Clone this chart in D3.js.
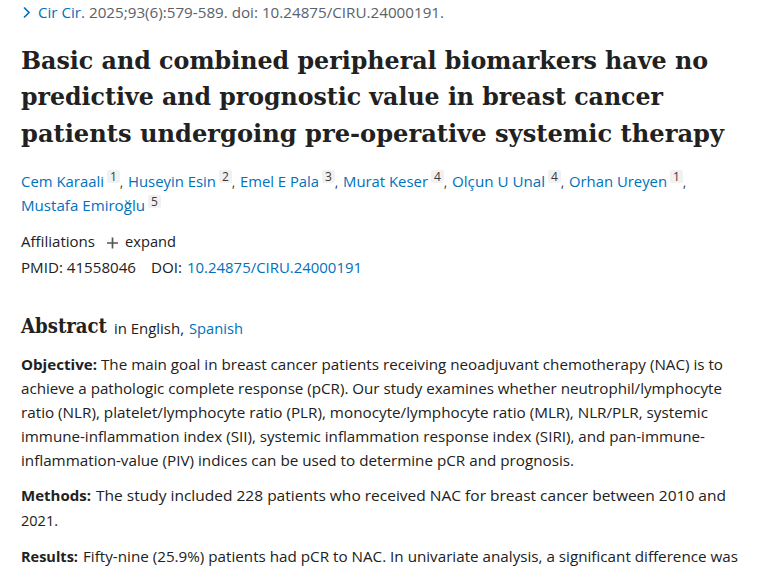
<!DOCTYPE html>
<html><head><meta charset="utf-8">
<script src="https://cdn.jsdelivr.net/npm/d3@7/dist/d3.min.js"></script>
<style>html,body{margin:0;padding:0;background:#fff}svg{display:block}</style></head>
<body><div id="c"></div>
<script>
const titleLines = ["Basic and combined peripheral biomarkers have no","predictive and prognostic value in breast cancer","patients undergoing pre-operative systemic therapy"];
const authorNames = ["Cem Karaali","Huseyin Esin","Emel E Pala","Murat Keser","Olçun U Unal","Orhan Ureyen","Mustafa Emiroğlu"];
const affiliationNums = ["1","2","3","4","4","1","5"];
const citationJournal = "Cir Cir.";
const citationRest = "2025;93(6):579-589. doi: 10.24875/CIRU.24000191.";
const bodyRuns = [
 ["Objective:",1,0],["The main goal in breast cancer patients receiving neoadjuvant chemotherapy (NAC) is to",0,0],
 ["achieve a pathologic complete response (pCR). Our study examines whether neutrophil/lymphocyte",0,1],
 ["ratio (NLR), platelet/lymphocyte ratio (PLR), monocyte/lymphocyte ratio (MLR), NLR/PLR, systemic",0,2],
 ["immune-inflammation index (SII), systemic inflammation response index (SIRI), and pan-immune-",0,3],
 ["inflammation-value (PIV) indices can be used to determine pCR and prognosis.",0,4],
 ["Methods:",1,5],["The study included 228 patients who received NAC for breast cancer between 2010 and",0,5],
 ["2021.",0,6],
 ["Results:",1,7],["Fifty-nine (25.9%) patients had pCR to NAC. In univariate analysis, a significant difference was",0,7]
];
// layout tables (pixel extents of each run), kept apart from the text
const titleExt = [[21,708],[21,663],[21,724]];
const titleBase = [69,105,142];
const authorExt = [[21,104],[128,216],[240,319],[343,428],[452,545],[569,667],[21,145]];
const supBox = [107,219,322,431,548,670,148];
const bodyExt = [[21,97],[101,723],[21,722],[21,708],[21,705],[21,574],[21,91],[96,726],[21,58],[21,78],[83,738]];
const bodyBase = [369.500,394,418,442,466,501,526,562];

const BLUE="#0071bc", INK="#212121", GRAY="#5b616b";
const SANS="'Open Sans','Noto Sans',sans-serif", SERIF="'DejaVu Serif',serif";
const svg=d3.select("#c").append("svg").attr("width",760).attr("height",570);

function put(sel,rows){
  return sel.selectAll(null).data(rows).join("text")
   .attr("x",d=>d.x0).attr("y",d=>d.y).text(d=>d.t)
   .attr("textLength",d=>d.x1-d.x0).attr("lengthAdjust","spacingAndGlyphs")
   .attr("font-family",d=>d.ff||SANS).attr("font-size",d=>d.fs||14.6)
   .attr("font-weight",d=>d.b?700:400).attr("fill",d=>d.c||INK);
}
// citation
svg.append("path").attr("d",d3.line()([[24,7.500],[29,12.500],[24,17.500]])).attr("fill","none").attr("stroke",BLUE).attr("stroke-width",1.7);
put(svg.append("g"),[
 {t:citationJournal,x0:38,x1:85,y:18,c:BLUE},
 {t:citationRest,x0:89,x1:444,y:18,c:GRAY}
]);
// title
put(svg.append("g"),titleLines.map((t,i)=>({t,x0:titleExt[i][0],x1:titleExt[i][1],y:titleBase[i],b:1,ff:SERIF,fs:24.8})));
// authors
const authorRows=authorNames.map((t,i)=>({t,x0:authorExt[i][0],x1:authorExt[i][1],y:i==6?211:187,c:BLUE}));
put(svg.append("g"),authorRows);
svg.append("g").selectAll("rect").data(affiliationNums).join("rect")
 .attr("x",(d,i)=>supBox[i]).attr("y",(d,i)=>(i==6?195:170)).attr("width",13).attr("height",13).attr("rx",2).attr("fill","#f1f1f1");
svg.append("g").selectAll("text").data(affiliationNums).join("text")
 .attr("x",(d,i)=>supBox[i]+6.500).attr("y",(d,i)=>(i==6?206:181)).attr("text-anchor","middle")
 .attr("font-family",SANS).attr("font-size",12).attr("fill","#3a3a3a").text(d=>d);
put(svg.append("g"),[120,232,335,444,561,683].map(x=>({t:",",x0:x,x1:x+3,y:187,c:INK})));
// meta
put(svg.append("g"),[
 {t:"Affiliations",x0:21,x1:95,y:247},
 {t:"expand",x0:125,x1:176,y:247},
 {t:"PMID: 41558046",x0:21,x1:136,y:273},
 {t:"DOI:",x0:151,x1:182,y:273},
 {t:"10.24875/CIRU.24000191",x0:187,x1:362,y:273,c:BLUE}
]);
svg.append("path").attr("d","M107 243H118M112.500 237.500V248.500").attr("stroke","#555").attr("stroke-width",1.7).attr("fill","none");
// abstract heading
put(svg.append("g"),[
 {t:"Abstract",x0:21,x1:107,y:333,b:1,ff:SERIF,fs:20},
 {t:"in English,",x0:114,x1:184,y:334},
 {t:"Spanish",x0:189,x1:243,y:334,c:BLUE}
]);
// body
put(svg.append("g"),bodyRuns.map((r,i)=>({t:r[0],b:r[1],x0:bodyExt[i][0],x1:bodyExt[i][1],y:bodyBase[r[2]]})));
</script></body></html>
